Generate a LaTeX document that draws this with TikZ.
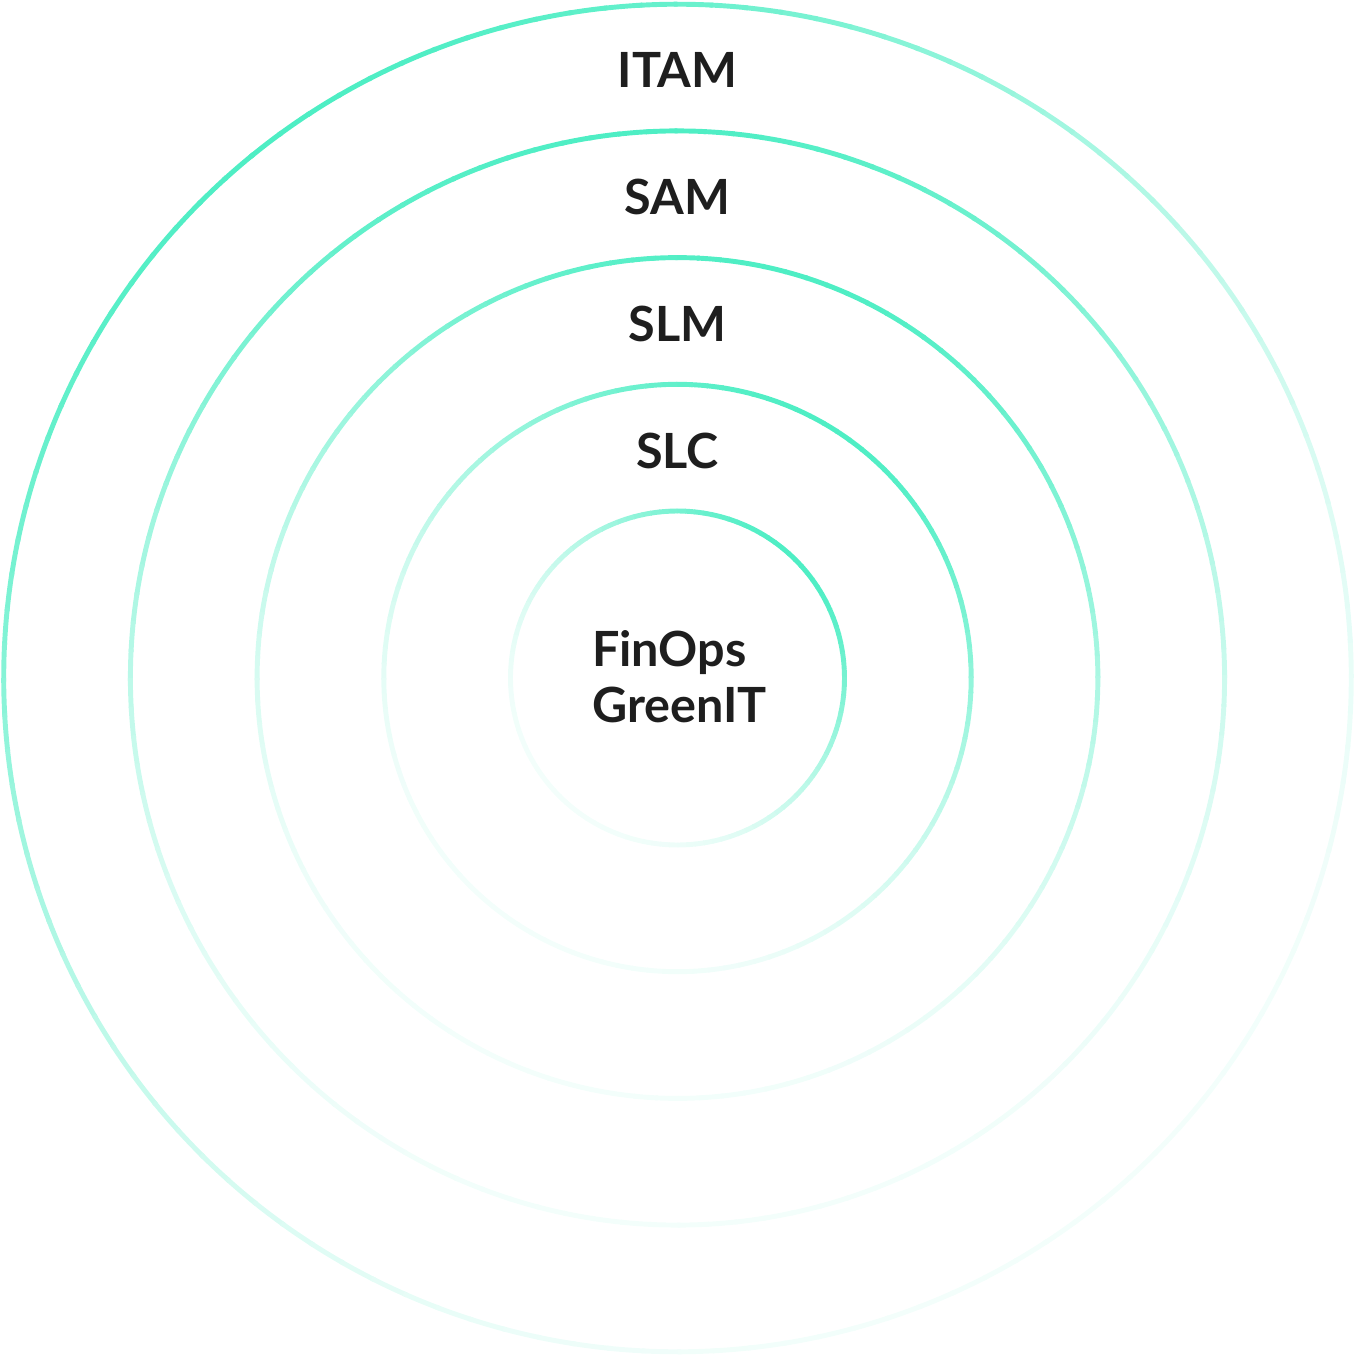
\documentclass[tikz,border=0pt]{standalone}
\usepackage{fontspec}
\setmainfont{Lato}
\usepackage{tikz}
\usetikzlibrary{calc,positioning}
\definecolor{ringgreen}{RGB}{78,238,196}
\definecolor{inkdark}{RGB}{30,30,30}
\tikzstyle{ring}    =[line width=1.4pt, line cap=butt]
\tikzstyle{ringname}=[inner sep=0pt, anchor=base, text=inkdark,
                      font=\fontsize{13.8}{16}\selectfont\bfseries]
\tikzstyle{coreline}=[ringname, anchor=base west]

\begin{document}
\begin{tikzpicture}[x=0.01cm, y=0.01cm]

    \useasboundingbox (-677.5,-679) rectangle (678.5,678);
    \coordinate (o) at (0,0);

    % rings, each one fading away from its own peak angle
    \foreach \r/\peak in {673.8/125, 547.1/95, 420.4/75, 293.7/60, 167/45}{
        \foreach \a in {0,3,...,357}{
            \pgfmathsetmacro{\t}{(1+cos(\a+1.5-\peak))/2}
            \pgfmathsetmacro{\pct}{7+93*\t^1.8}
            \draw[ring, ringgreen!\pct] ($(o)+(\a:\r)$) arc (\a:\a+3.3:\r);
        }
    }

    % names of the rings
    \node (itam) [ringname] at (0,590) {ITAM};
    \node (sam)  [ringname] at (0,463) {SAM};
    \node (slm)  [ringname] at (0,336) {SLM};
    \node (slc)  [ringname] at (0,209) {SLC};

    % core
    \node (finops)  [coreline] at (-86,12)  {FinOps};
    \node (greenit) [coreline] at (-86,-44) {GreenIT};

\end{tikzpicture}
\end{document}
